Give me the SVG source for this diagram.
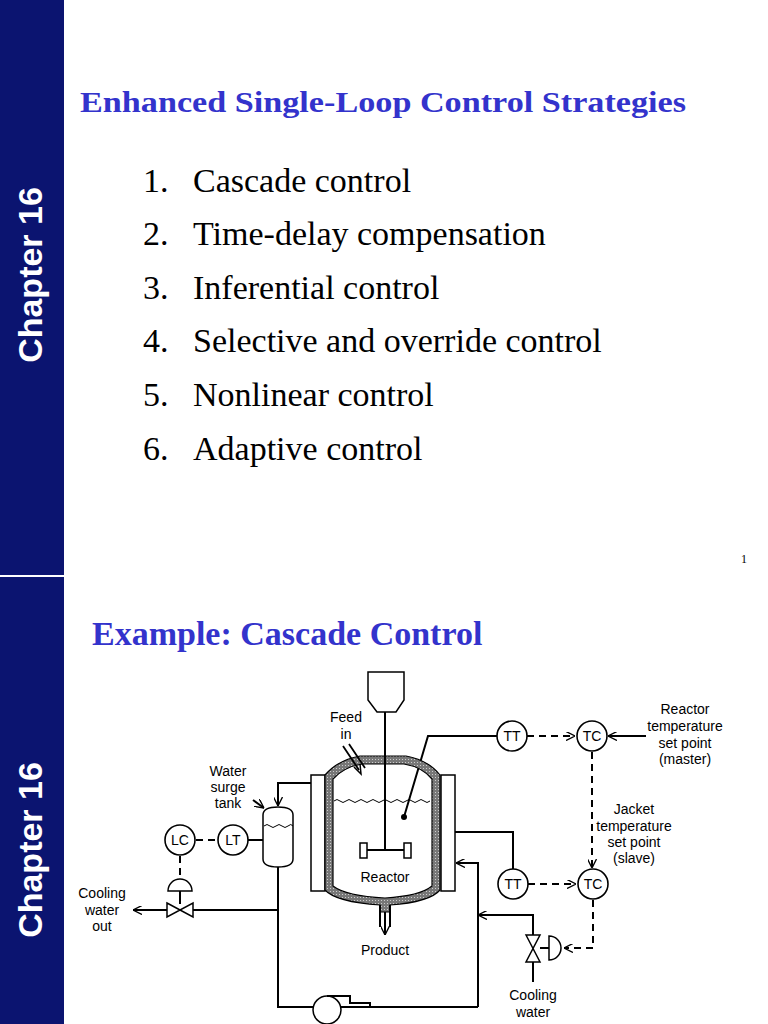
<svg xmlns="http://www.w3.org/2000/svg" width="768" height="1024" viewBox="0 0 768 1024">
<defs>
<marker id="ah" viewBox="0 0 10 10" refX="10" refY="5" markerWidth="9" markerHeight="9" orient="auto" markerUnits="userSpaceOnUse"><path d="M0,0 L10,5 L0,10" fill="none" stroke="#000" stroke-width="1.5"/></marker>
<pattern id="hatch" width="3" height="3" patternUnits="userSpaceOnUse"><rect width="3" height="3" fill="#777"/><rect width="1" height="1" fill="#ccc"/></pattern>
</defs>
<style>
.sb{fill:#0b1470}
.ch{font-family:"Liberation Sans",Arial,sans-serif;font-weight:bold;font-size:34px;fill:#fff}
.ti{font-family:"Liberation Serif","Times New Roman",serif;font-weight:bold;fill:#3333cc}
.li{font-family:"Liberation Serif","Times New Roman",serif;font-size:34px;fill:#000}
.lb{font-family:"Liberation Sans Narrow","Liberation Sans",Arial,sans-serif;font-size:14px;fill:#000;text-anchor:middle}
.ln{fill:none;stroke:#000;stroke-width:2}
.ds{fill:none;stroke:#000;stroke-width:2;stroke-dasharray:7,5}
.ci{fill:#fff;stroke:#000;stroke-width:1.6}
.eq{fill:#fff;stroke:#000;stroke-width:1.5}
</style>
<rect width="768" height="1024" fill="#fff"/>
<rect class="sb" x="0" y="0" width="64" height="575"/>
<rect class="sb" x="0" y="577" width="64" height="447"/>
<text class="ch" transform="translate(42,275) rotate(-90)" text-anchor="middle">Chapter 16</text>
<text class="ch" transform="translate(42,850) rotate(-90)" text-anchor="middle">Chapter 16</text>

<text class="ti" x="80" y="112" font-size="30" textLength="606" lengthAdjust="spacingAndGlyphs">Enhanced Single-Loop Control Strategies</text>
<g class="li">
<text x="143" y="192">1.</text><text x="193" y="192">Cascade control</text>
<text x="143" y="245">2.</text><text x="193" y="245">Time-delay compensation</text>
<text x="143" y="299">3.</text><text x="193" y="299">Inferential control</text>
<text x="143" y="352">4.</text><text x="193" y="352">Selective and override control</text>
<text x="143" y="406">5.</text><text x="193" y="406">Nonlinear control</text>
<text x="143" y="460">6.</text><text x="193" y="460">Adaptive control</text>
</g>
<text x="741" y="563" font-family="Liberation Serif,serif" font-size="12">1</text>
<text class="ti" x="92" y="645" font-size="34">Example: Cascade Control</text>

<g id="connectors">
<path class="ln" d="M385,712 V850 M362,850 H408"/>
<path class="ln" d="M404,817 L428,736 H497"/>
<path class="ds" d="M527,736 H575" marker-end="url(#ah)"/>
<path class="ln" d="M646,736 H608" marker-end="url(#ah)"/>
<path class="ds" d="M592,752 V868" marker-end="url(#ah)"/>
<path class="ln" d="M448,832 H513 V869"/>
<path class="ds" d="M528,884 H576" marker-end="url(#ah)"/>
<path class="ds" d="M593,900 V948 H564" marker-end="url(#ah)"/>
<path class="ln" d="M533,935 V915 H478" marker-end="url(#ah)"/>
<path class="ln" d="M478,1007 V863 H456" marker-end="url(#ah)"/>
<path class="ln" d="M533,962 V982"/>
<path class="ln" d="M311,783 H278 V806" marker-end="url(#ah)"/>
<path class="ln" d="M253,800 L264,808" marker-end="url(#ah)"/>
<path class="ln" d="M248,840 H263"/>
<path class="ds" d="M196,840 H218"/>
<path class="ds" d="M180,856 V876"/>
<path class="ln" d="M180,891 V904"/>
<path class="ln" d="M278,867 V1007 H313 M341,1007 H478"/>
<path class="ln" d="M193,910 H278"/>
<path class="ln" d="M167,910 H133" marker-end="url(#ah)"/>
<path class="ln" d="M385,905 V935" marker-end="url(#ah)"/>
<circle cx="448" cy="832" r="3"/><circle cx="404" cy="817" r="3"/>
</g>

<g id="motor"><path class="eq" d="M368,672 H404 V700 L396,712 H377 L368,700 Z"/></g>
<g id="reactor">
<rect class="eq" x="311" y="775" width="14" height="116"/>
<rect class="eq" x="441" y="775" width="14" height="116"/>
<path d="M325,890 V775 Q338,760 360,756 H406 Q428,760 440,775 V890 Q430,902 390,905 V912 H380 V905 Q336,902 325,890 Z M333,886 V779 Q344,767 362,764 H404 Q422,767 432,779 V886 Q420,896 385,898 Q346,896 333,886 Z" fill="url(#hatch)" fill-rule="evenodd" stroke="#000" stroke-width="1.2"/>
<path d="M380,905 V927 M390,905 V927" class="ln" stroke-width="1.5"/>
<path d="M334,801 q3,-3 6,0 t6,0 t6,0 t6,0 t6,0 t6,0 t6,0 t6,0 t6,0 t6,0 t6,0 t6,0 t6,0 t6,0 t6,0 t6,0" fill="none" stroke="#000"/>
<rect class="eq" x="360" y="843" width="7" height="15"/><rect class="eq" x="404" y="843" width="7" height="15"/>
<path d="M343,746 L359,770 M349,744 L365,768" stroke="#000" stroke-width="1.8"/>
<path d="M354,767 L361,774 L360,764" fill="none" stroke="#000" stroke-width="1.5"/>
<text class="lb" x="385" y="882">Reactor</text>
<text class="lb" x="385" y="955">Product</text>
<text class="lb" x="346" y="722">Feed</text><text class="lb" x="346" y="739">in</text>
<path class="ln" d="M385,712 V850" stroke-width="1.5"/>
</g>
<g id="tank">
<path class="eq" d="M263,815 Q263,807 278,807 Q293,807 293,815 V859 Q293,867 278,867 Q263,867 263,859 Z"/>
<path d="M264,826 q3,-3 6,0 t6,0 t6,0 t6,0 t5,0" fill="none" stroke="#000"/>
<text class="lb" x="228" y="776">Water</text><text class="lb" x="228" y="792">surge</text><text class="lb" x="228" y="808">tank</text>
</g>
<g id="pump"><circle class="eq" cx="327" cy="1010" r="14"/><path class="ln" d="M327,996 H350 V1003 H370 V1007" stroke-width="1.5"/></g>
<g id="LT"><circle class="ci" cx="233" cy="840" r="15"/><text class="lb" x="233" y="845">LT</text></g>
<g id="LC"><circle class="ci" cx="180" cy="840" r="15"/><text class="lb" x="180" y="845">LC</text></g>
<g id="lvalve"><path class="eq" d="M168,891 A12,12 0 0 1 192,891 Z"/><path class="eq" d="M167,903 L193,917 V903 L167,917 Z"/></g>
<text class="lb" x="102" y="898">Cooling</text><text class="lb" x="102" y="915">water</text><text class="lb" x="102" y="931">out</text>
<g id="TT1"><circle class="ci" cx="512" cy="736" r="15"/><text class="lb" x="512" y="741">TT</text></g>
<g id="TC1"><circle class="ci" cx="592" cy="736" r="15"/><text class="lb" x="592" y="741">TC</text></g>
<g id="TT2"><circle class="ci" cx="513" cy="884" r="15"/><text class="lb" x="513" y="889">TT</text></g>
<g id="TC2"><circle class="ci" cx="593" cy="884" r="15"/><text class="lb" x="593" y="889">TC</text></g>
<g id="tvalve"><path class="eq" d="M526,935 L540,962 H526 L540,935 Z"/><path class="ln" d="M540,948 H549" stroke-width="1.5"/><path class="eq" d="M549,936 A12,12 0 0 1 549,960 Z"/></g>
<text class="lb" x="685" y="714">Reactor</text><text class="lb" x="685" y="731">temperature</text><text class="lb" x="685" y="748">set point</text><text class="lb" x="685" y="764">(master)</text>
<text class="lb" x="634" y="814">Jacket</text><text class="lb" x="634" y="831">temperature</text><text class="lb" x="634" y="847">set point</text><text class="lb" x="634" y="863">(slave)</text>
<text class="lb" x="533" y="1000">Cooling</text><text class="lb" x="533" y="1017">water</text>
</svg>
